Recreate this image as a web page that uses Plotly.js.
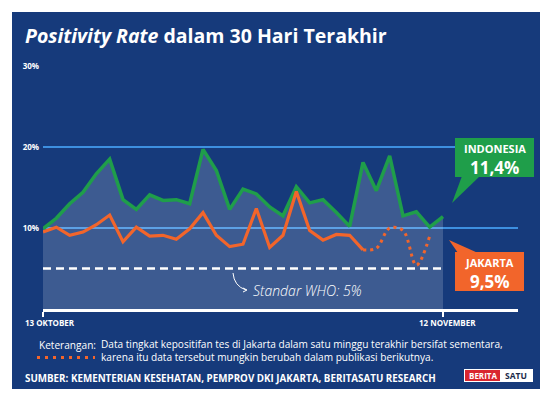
<!DOCTYPE html>
<html>
<head>
<meta charset="utf-8">
<script src="https://cdn.plot.ly/plotly-3.0.1.min.js"></script>
<style>html,body{margin:0;padding:0;background:#fff;}#chart{width:552px;height:394px;}</style>
</head>
<body>
<div id="chart"></div>
<script>
// ---- data ----
var dates = ['2020-10-13','2020-10-14','2020-10-15','2020-10-16','2020-10-17','2020-10-18','2020-10-19','2020-10-20','2020-10-21','2020-10-22','2020-10-23','2020-10-24','2020-10-25','2020-10-26','2020-10-27','2020-10-28','2020-10-29','2020-10-30','2020-10-31','2020-11-01','2020-11-02','2020-11-03','2020-11-04','2020-11-05','2020-11-06','2020-11-07','2020-11-08','2020-11-09','2020-11-10','2020-11-11','2020-11-12'];
var indonesia = [9.9,11.2,13.0,14.4,16.7,18.5,13.5,12.3,14.1,13.4,13.5,13.0,19.7,17.1,12.3,14.8,14.2,12.6,11.5,15.1,13.1,13.5,11.9,10.2,18.1,14.6,18.9,11.5,12.0,10.1,11.4];
var jakartaFinalDates = dates.slice(0,25);
var jakartaFinal = [9.5,10.1,9.1,9.5,10.4,11.6,8.3,10.1,9.0,9.1,8.6,9.9,11.9,9.1,7.7,8.0,12.4,7.6,9.1,14.5,9.7,8.5,9.2,9.1,7.3];
var jakartaProvDates = dates.slice(24,30);
var jakartaProv = [7.3,7.5,10.0,9.7,5.4,9.0];
var whoDates = [dates[0], dates[30]];
var whoLevel = [5,5];
var yTicks = [10,20,30];
var yTickText = ['10%','20%','30%'];
var xTickDates = ['2020-10-13','2020-11-12'];
var xTickText = ['13 OKTOBER','12 NOVEMBER'];
var title = '<i>Positivity Rate</i> <b>dalam 30 Hari Terakhir</b>';
var labelIndo = ['INDONESIA','11,4%'];
var labelJkt = ['JAKARTA','9,5%'];
var whoText = 'Standar WHO: 5%';
var noteLabel = 'Keterangan:';
var noteLines = ['Data tingkat kepositifan tes di Jakarta dalam satu minggu terakhir bersifat sementara,','karena itu data tersebut mungkin berubah dalam publikasi berikutnya.'];
var source = 'SUMBER: KEMENTERIAN KESEHATAN, PEMPROV DKI JAKARTA, BERITASATU RESEARCH';

// ---- layout helpers (pixel -> paper) ----
var L = 43, R = 34, T = 66, B = 85, W = 552, H = 394;
var pw = W - L - R, ph = H - T - B;
function px(x){ return (x - L) / pw; }
function py(y){ return (H - B - y) / ph; }
function path(pts){ return pts.map(function(p,i){ return (i===0?'M':(p.length===2?'L':'Q')) + ' ' + (p.length===2 ? px(p[0])+','+py(p[1]) : px(p[0])+','+py(p[1])+' '+px(p[2])+','+py(p[3])); }).join(' '); }

var NAVY = '#163a7b', GREEN = '#1f9e4a', ORANGE = '#f2652b', GRID = '#3d8fe0';
var FONT = '"Open Sans", Lato, sans-serif';

var traces = [
  {x: dates, y: indonesia, type: 'scatter', mode: 'lines', fill: 'tozeroy', fillcolor: 'rgba(255,255,255,0.17)', line: {color: GREEN, width: 3.5}, hoverinfo: 'skip'},
  {x: whoDates, y: whoLevel, type: 'scatter', mode: 'lines', line: {color: '#ffffff', width: 2.5, dash: '8px,5px'}, hoverinfo: 'skip'},
  {x: jakartaFinalDates, y: jakartaFinal, type: 'scatter', mode: 'lines', line: {color: ORANGE, width: 3.2}, hoverinfo: 'skip'},
  {x: jakartaProvDates, y: jakartaProv, type: 'scatter', mode: 'lines', line: {color: ORANGE, width: 3, shape: 'spline', smoothing: 1, dash: '3px,4px'}, hoverinfo: 'skip'}
];

function ann(x, y, text, size, opts){
  var a = {xref: 'paper', yref: 'paper', x: px(x), y: py(y), text: text, showarrow: false,
    xanchor: 'left', yanchor: 'middle', font: {family: FONT, size: size, color: '#ffffff'}};
  for (var k in opts) { if (k === 'font') { for (var f in opts.font) a.font[f] = opts.font[f]; } else a[k] = opts[k]; }
  return a;
}

var annotations = [
  ann(23, 35, title, 19.5, {font: {weight: 'bold'}}),
  ann(50, 322, xTickText[0], 8, {xanchor: 'center', font: {weight: 'bold'}}),
  ann(447, 322, xTickText[1], 8, {xanchor: 'center', font: {weight: 'bold'}}),
  ann(251, 290, whoText, 14, {font: {style: 'italic', weight: 300}}),
  ann(37, 344.5, noteLabel, 10.1, {}),
  ann(99, 351, noteLines.join('<br>'), 10.1, {align: 'left'}),
  ann(23, 378, source, 9.8, {font: {weight: 'bold'}}),
  ann(494.5, 148, labelIndo[0], 11, {xanchor: 'center', font: {weight: 'bold'}}),
  ann(494.5, 167, labelIndo[1], 17, {xanchor: 'center', font: {weight: 'bold'}}),
  ann(489.5, 262, labelJkt[0], 11, {xanchor: 'center', font: {weight: 'bold'}}),
  ann(489.5, 281, labelJkt[1], 17, {xanchor: 'center', font: {weight: 'bold'}}),
  ann(482.5, 375.5, 'BERITA', 8, {xanchor: 'center', font: {weight: 'bold'}}),
  ann(516, 375.5, 'SATU', 8.5, {xanchor: 'center', font: {weight: 'bold', color: '#1b2a4a'}})
];

function rect(x0, y0, x1, y1, color, layer, line){
  return {type: 'rect', xref: 'paper', yref: 'paper', x0: px(x0), x1: px(x1), y0: py(y1), y1: py(y0),
    fillcolor: color, line: line || {width: 0}, layer: layer || 'above'};
}

var shapes = [
  rect(12, 12, 540, 389, NAVY, 'below'),
  // Indonesia label
  rect(455, 138, 534, 177, GREEN),
  {type: 'path', xref: 'paper', yref: 'paper', path: path([[462,176],[452,203],[480,176]]) + ' Z', fillcolor: GREEN, line: {width: 0}},
  // Jakarta label
  rect(455, 252, 524, 291, ORANGE),
  {type: 'path', xref: 'paper', yref: 'paper', path: path([[449,240],[458,253],[478,253]]) + ' Z', fillcolor: ORANGE, line: {width: 0}},
  // WHO curved pointer
  {type: 'path', xref: 'paper', yref: 'paper', path: path([[233,273],[234,286,246,290]]), line: {color: '#ffffff', width: 1}},
  {type: 'path', xref: 'paper', yref: 'paper', path: path([[243,288],[247,290],[243,292]]), line: {color: '#ffffff', width: 1}},
  // legend dotted sample
  {type: 'line', xref: 'paper', yref: 'paper', x0: px(37), x1: px(95), y0: py(357.5), y1: py(357.5), line: {color: ORANGE, width: 3, dash: '3px,5px'}},
  // logo
  rect(464, 369, 533, 382, '#ffffff'),
  rect(465, 370, 500, 381, '#d9262f')
];

var layout = {
  width: W, height: H,
  margin: {l: L, r: R, t: T, b: B, pad: 0},
  paper_bgcolor: '#ffffff',
  plot_bgcolor: 'rgba(0,0,0,0)',
  showlegend: false,
  font: {family: FONT, color: '#ffffff'},
  xaxis: {
    type: 'date', range: ['2020-10-13', '2020-11-17 15:00'],
    tickvals: xTickDates, ticktext: ['', ''],
    ticks: 'outside', ticklen: 5, tickwidth: 2, tickcolor: '#ffffff',
    showline: true, linecolor: '#ffffff', linewidth: 3,
    showgrid: false, zeroline: false, fixedrange: true
  },
  yaxis: {
    range: [0, 30], tickvals: yTicks, ticktext: yTickText,
    ticks: '', ticklabelstandoff: 3,
    tickfont: {family: FONT, size: 8, color: '#ffffff', weight: 'bold'},
    showgrid: true, gridcolor: GRID, gridwidth: 1.2,
    showline: false, zeroline: false, fixedrange: true
  },
  annotations: annotations,
  shapes: shapes
};

Plotly.newPlot('chart', traces, layout, {displayModeBar: false, staticPlot: true});
</script>
</body>
</html>
